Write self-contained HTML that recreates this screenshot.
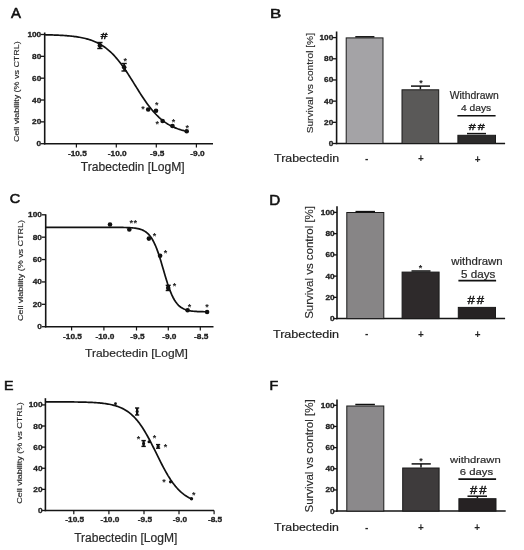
<!DOCTYPE html>
<html><head><meta charset="utf-8"><style>
html,body{margin:0;padding:0;background:#fff;}
svg{display:block;}
text{font-family:"Liberation Sans",Arial,sans-serif;}
</style></head><body>
<svg width="524" height="550" viewBox="0 0 524 550">
<rect width="524" height="550" fill="#fff"/>
<text x="11.06" y="17.80" font-size="14.25" fill="#111" stroke="#111" stroke-width="0.55" textLength="9.97" lengthAdjust="spacingAndGlyphs">A</text>
<text transform="translate(19.15,142.05) rotate(-90)" x="0" y="0" font-size="7.86" fill="#2a2a2a" stroke="#2a2a2a" stroke-width="0.15" textLength="100.78" lengthAdjust="spacingAndGlyphs">Cell viability (% vs CTRL)</text>
<line x1="44.70" y1="32.50" x2="44.70" y2="144.40" stroke="#151515" stroke-width="1.6"/>
<line x1="40.80" y1="143.70" x2="44.70" y2="143.70" stroke="#151515" stroke-width="1.3"/>
<text x="36.64" y="146.21" font-size="7.2" font-weight="bold" fill="#222" stroke="#222" stroke-width="0.3" textLength="4.61" lengthAdjust="spacingAndGlyphs">0</text>
<line x1="40.80" y1="121.86" x2="44.70" y2="121.86" stroke="#151515" stroke-width="1.3"/>
<text x="32.04" y="124.37" font-size="7.2" font-weight="bold" fill="#222" stroke="#222" stroke-width="0.3" textLength="9.21" lengthAdjust="spacingAndGlyphs">20</text>
<line x1="40.80" y1="100.02" x2="44.70" y2="100.02" stroke="#151515" stroke-width="1.3"/>
<text x="32.04" y="102.53" font-size="7.2" font-weight="bold" fill="#222" stroke="#222" stroke-width="0.3" textLength="9.21" lengthAdjust="spacingAndGlyphs">40</text>
<line x1="40.80" y1="78.18" x2="44.70" y2="78.18" stroke="#151515" stroke-width="1.3"/>
<text x="32.04" y="80.69" font-size="7.2" font-weight="bold" fill="#222" stroke="#222" stroke-width="0.3" textLength="9.21" lengthAdjust="spacingAndGlyphs">60</text>
<line x1="40.80" y1="56.34" x2="44.70" y2="56.34" stroke="#151515" stroke-width="1.3"/>
<text x="32.04" y="58.85" font-size="7.2" font-weight="bold" fill="#222" stroke="#222" stroke-width="0.3" textLength="9.21" lengthAdjust="spacingAndGlyphs">80</text>
<line x1="40.80" y1="34.50" x2="44.70" y2="34.50" stroke="#151515" stroke-width="1.3"/>
<text x="27.42" y="37.01" font-size="7.2" font-weight="bold" fill="#222" stroke="#222" stroke-width="0.3" textLength="13.82" lengthAdjust="spacingAndGlyphs">100</text>
<line x1="43.90" y1="143.70" x2="213.00" y2="143.70" stroke="#151515" stroke-width="1.5"/>
<line x1="76.40" y1="143.70" x2="76.40" y2="147.50" stroke="#151515" stroke-width="1.2"/>
<text x="67.92" y="155.62" font-size="7.2" font-weight="bold" fill="#222" stroke="#222" stroke-width="0.3" textLength="18.87" lengthAdjust="spacingAndGlyphs">-10.5</text>
<line x1="116.30" y1="143.70" x2="116.30" y2="147.50" stroke="#151515" stroke-width="1.2"/>
<text x="107.87" y="155.62" font-size="7.2" font-weight="bold" fill="#222" stroke="#222" stroke-width="0.3" textLength="18.87" lengthAdjust="spacingAndGlyphs">-10.0</text>
<line x1="156.30" y1="143.70" x2="156.30" y2="147.50" stroke="#151515" stroke-width="1.2"/>
<text x="150.12" y="155.62" font-size="7.2" font-weight="bold" fill="#222" stroke="#222" stroke-width="0.3" textLength="14.27" lengthAdjust="spacingAndGlyphs">-9.5</text>
<line x1="196.40" y1="143.70" x2="196.40" y2="147.50" stroke="#151515" stroke-width="1.2"/>
<text x="190.27" y="155.62" font-size="7.2" font-weight="bold" fill="#222" stroke="#222" stroke-width="0.3" textLength="14.27" lengthAdjust="spacingAndGlyphs">-9.0</text>
<text x="80.83" y="171.00" font-size="12.14" fill="#2a2a2a" stroke="#2a2a2a" stroke-width="0.2" textLength="103.84" lengthAdjust="spacingAndGlyphs">Trabectedin [LogM]</text>
<path d="M45.00,34.77 L46.19,34.80 L47.38,34.82 L48.57,34.85 L49.76,34.88 L50.95,34.92 L52.14,34.95 L53.33,34.99 L54.52,35.04 L55.71,35.08 L56.90,35.13 L58.09,35.18 L59.28,35.24 L60.47,35.30 L61.66,35.37 L62.85,35.44 L64.04,35.52 L65.23,35.60 L66.42,35.69 L67.61,35.78 L68.80,35.89 L69.99,36.00 L71.18,36.12 L72.37,36.25 L73.56,36.39 L74.75,36.54 L75.94,36.70 L77.13,36.88 L78.32,37.06 L79.51,37.26 L80.70,37.48 L81.89,37.71 L83.08,37.96 L84.27,38.23 L85.46,38.52 L86.65,38.82 L87.84,39.16 L89.03,39.51 L90.22,39.89 L91.41,40.30 L92.60,40.73 L93.79,41.20 L94.98,41.69 L96.17,42.22 L97.36,42.79 L98.55,43.39 L99.74,44.03 L100.93,44.72 L102.12,45.44 L103.31,46.21 L104.50,47.03 L105.69,47.90 L106.88,48.81 L108.07,49.78 L109.26,50.80 L110.45,51.87 L111.64,53.00 L112.83,54.18 L114.02,55.42 L115.21,56.72 L116.39,58.07 L117.58,59.48 L118.77,60.94 L119.96,62.46 L121.15,64.03 L122.34,65.65 L123.53,67.32 L124.72,69.03 L125.91,70.78 L127.10,72.57 L128.29,74.39 L129.48,76.25 L130.67,78.12 L131.86,80.02 L133.05,81.92 L134.24,83.84 L135.43,85.76 L136.62,87.67 L137.81,89.57 L139.00,91.47 L140.19,93.34 L141.38,95.18 L142.57,97.00 L143.76,98.78 L144.95,100.53 L146.14,102.23 L147.33,103.89 L148.52,105.50 L149.71,107.06 L150.90,108.56 L152.09,110.01 L153.28,111.41 L154.47,112.75 L155.66,114.04 L156.85,115.27 L158.04,116.44 L159.23,117.56 L160.42,118.62 L161.61,119.63 L162.80,120.58 L163.99,121.49 L165.18,122.34 L166.37,123.15 L167.56,123.91 L168.75,124.63 L169.94,125.30 L171.13,125.94 L172.32,126.53 L173.51,127.09 L174.70,127.61 L175.89,128.10 L177.08,128.56 L178.27,128.99 L179.46,129.39 L180.65,129.77 L181.84,130.12 L183.03,130.44 L184.22,130.75 L185.41,131.03 L186.60,131.29" fill="none" stroke="#111" stroke-width="1.7"/>
<line x1="99.90" y1="42.50" x2="99.90" y2="48.50" stroke="#111" stroke-width="1.8"/>
<line x1="97.25" y1="42.50" x2="102.55" y2="42.50" stroke="#111" stroke-width="1.4"/>
<line x1="97.25" y1="48.50" x2="102.55" y2="48.50" stroke="#111" stroke-width="1.4"/>
<circle cx="99.90" cy="45.40" r="2.3" fill="#111"/>
<line x1="124.10" y1="63.50" x2="124.10" y2="71.00" stroke="#111" stroke-width="1.8"/>
<line x1="121.45" y1="63.50" x2="126.75" y2="63.50" stroke="#111" stroke-width="1.4"/>
<line x1="121.45" y1="71.00" x2="126.75" y2="71.00" stroke="#111" stroke-width="1.4"/>
<circle cx="124.20" cy="67.20" r="2.3" fill="#111"/>
<circle cx="148.20" cy="109.50" r="2.3" fill="#111"/>
<circle cx="156.00" cy="110.70" r="2.3" fill="#111"/>
<circle cx="162.60" cy="121.00" r="2.3" fill="#111"/>
<circle cx="172.50" cy="126.00" r="2.3" fill="#111"/>
<circle cx="186.70" cy="131.20" r="2.3" fill="#111"/>
<text x="100.74" y="39.40" font-size="9.20" fill="#1a1a1a" stroke="#1a1a1a" stroke-width="0.55" textLength="6.70" lengthAdjust="spacingAndGlyphs">#</text>
<text x="123.45" y="64.21" font-size="9.00" font-weight="bold" fill="#222" textLength="3.50" lengthAdjust="spacingAndGlyphs">*</text>
<text x="141.34" y="111.61" font-size="9.00" font-weight="bold" fill="#222" textLength="3.50" lengthAdjust="spacingAndGlyphs">*</text>
<text x="155.05" y="108.41" font-size="9.00" font-weight="bold" fill="#222" textLength="3.50" lengthAdjust="spacingAndGlyphs">*</text>
<text x="155.55" y="127.31" font-size="9.00" font-weight="bold" fill="#222" textLength="3.50" lengthAdjust="spacingAndGlyphs">*</text>
<text x="171.84" y="124.51" font-size="9.00" font-weight="bold" fill="#222" textLength="3.50" lengthAdjust="spacingAndGlyphs">*</text>
<text x="185.44" y="130.51" font-size="9.00" font-weight="bold" fill="#222" textLength="3.50" lengthAdjust="spacingAndGlyphs">*</text>
<!-- B -->
<text x="270.11" y="17.60" font-size="13.09" fill="#111" stroke="#111" stroke-width="0.55" textLength="11.27" lengthAdjust="spacingAndGlyphs">B</text>
<text transform="translate(313.25,133.36) rotate(-90)" x="0" y="0" font-size="9.93" fill="#2a2a2a" stroke="#2a2a2a" stroke-width="0.15" textLength="100.37" lengthAdjust="spacingAndGlyphs">Survival vs control [%]</text>
<line x1="336.60" y1="31.50" x2="336.60" y2="144.20" stroke="#151515" stroke-width="1.6"/>
<line x1="332.70" y1="143.50" x2="336.60" y2="143.50" stroke="#151515" stroke-width="1.3"/>
<text x="328.74" y="146.01" font-size="7.2" font-weight="bold" fill="#222" stroke="#222" stroke-width="0.3" textLength="4.61" lengthAdjust="spacingAndGlyphs">0</text>
<line x1="332.70" y1="122.32" x2="336.60" y2="122.32" stroke="#151515" stroke-width="1.3"/>
<text x="324.14" y="124.83" font-size="7.2" font-weight="bold" fill="#222" stroke="#222" stroke-width="0.3" textLength="9.21" lengthAdjust="spacingAndGlyphs">20</text>
<line x1="332.70" y1="101.14" x2="336.60" y2="101.14" stroke="#151515" stroke-width="1.3"/>
<text x="324.14" y="103.65" font-size="7.2" font-weight="bold" fill="#222" stroke="#222" stroke-width="0.3" textLength="9.21" lengthAdjust="spacingAndGlyphs">40</text>
<line x1="332.70" y1="79.96" x2="336.60" y2="79.96" stroke="#151515" stroke-width="1.3"/>
<text x="324.14" y="82.47" font-size="7.2" font-weight="bold" fill="#222" stroke="#222" stroke-width="0.3" textLength="9.21" lengthAdjust="spacingAndGlyphs">60</text>
<line x1="332.70" y1="58.78" x2="336.60" y2="58.78" stroke="#151515" stroke-width="1.3"/>
<text x="324.14" y="61.29" font-size="7.2" font-weight="bold" fill="#222" stroke="#222" stroke-width="0.3" textLength="9.21" lengthAdjust="spacingAndGlyphs">80</text>
<line x1="332.70" y1="37.60" x2="336.60" y2="37.60" stroke="#151515" stroke-width="1.3"/>
<text x="319.52" y="40.11" font-size="7.2" font-weight="bold" fill="#222" stroke="#222" stroke-width="0.3" textLength="13.82" lengthAdjust="spacingAndGlyphs">100</text>
<line x1="335.80" y1="143.50" x2="505.10" y2="143.50" stroke="#151515" stroke-width="1.5"/>
<rect x="346.20" y="37.90" width="36.80" height="105.60" fill="#a4a3a6" stroke="#1a1a1a" stroke-width="1"/>
<line x1="355.30" y1="36.80" x2="374.40" y2="36.80" stroke="#111" stroke-width="1.5"/>
<rect x="402.00" y="89.80" width="36.70" height="53.70" fill="#5a5958" stroke="#1a1a1a" stroke-width="1"/>
<line x1="420.40" y1="86.10" x2="420.40" y2="89.30" stroke="#111" stroke-width="1.5"/>
<line x1="411.00" y1="86.10" x2="430.00" y2="86.10" stroke="#111" stroke-width="1.5"/>
<text x="419.25" y="86.41" font-size="9.00" font-weight="bold" fill="#222" textLength="3.50" lengthAdjust="spacingAndGlyphs">*</text>
<rect x="457.90" y="135.30" width="37.60" height="8.20" fill="#2c2b2b" stroke="#1a1a1a" stroke-width="1"/>
<line x1="467.00" y1="133.60" x2="486.00" y2="133.60" stroke="#111" stroke-width="1.5"/>
<text transform="translate(468.74,129.70) scale(1.361,1)" x="0" y="0" font-size="9.20" fill="#1a1a1a" stroke="#1a1a1a" stroke-width="0.37" letter-spacing="1.47">##</text>
<text x="449.75" y="99.10" font-size="10.07" fill="#2a2a2a" stroke="#2a2a2a" stroke-width="0.2" textLength="48.91" lengthAdjust="spacingAndGlyphs">Withdrawn</text>
<text x="460.97" y="110.50" font-size="9.10" fill="#2a2a2a" stroke="#2a2a2a" stroke-width="0.2" textLength="30.18" lengthAdjust="spacingAndGlyphs">4 days</text>
<line x1="457.40" y1="115.70" x2="495.60" y2="115.70" stroke="#111" stroke-width="1.6"/>
<text x="274.12" y="162.40" font-size="11.59" fill="#222" stroke="#222" stroke-width="0.2" textLength="64.97" lengthAdjust="spacingAndGlyphs">Trabectedin</text>
<text x="365.04" y="161.70" font-size="10.00" font-weight="bold" fill="#222" textLength="3.33" lengthAdjust="spacingAndGlyphs">-</text>
<text x="417.88" y="162.32" font-size="10.00" font-weight="bold" fill="#222" textLength="5.84" lengthAdjust="spacingAndGlyphs">+</text>
<text x="474.68" y="162.52" font-size="10.00" font-weight="bold" fill="#222" textLength="5.84" lengthAdjust="spacingAndGlyphs">+</text>
<!-- C -->
<text x="9.78" y="203.30" font-size="12.90" fill="#111" stroke="#111" stroke-width="0.55" textLength="10.46" lengthAdjust="spacingAndGlyphs">C</text>
<text transform="translate(23.45,321.05) rotate(-90)" x="0" y="0" font-size="7.45" fill="#2a2a2a" stroke="#2a2a2a" stroke-width="0.15" textLength="100.98" lengthAdjust="spacingAndGlyphs">Cell viability (% vs CTRL)</text>
<line x1="45.70" y1="214.30" x2="45.70" y2="327.40" stroke="#151515" stroke-width="1.6"/>
<line x1="41.80" y1="326.70" x2="45.70" y2="326.70" stroke="#151515" stroke-width="1.3"/>
<text x="37.34" y="329.21" font-size="7.2" font-weight="bold" fill="#222" stroke="#222" stroke-width="0.3" textLength="4.61" lengthAdjust="spacingAndGlyphs">0</text>
<line x1="41.80" y1="304.32" x2="45.70" y2="304.32" stroke="#151515" stroke-width="1.3"/>
<text x="32.74" y="306.83" font-size="7.2" font-weight="bold" fill="#222" stroke="#222" stroke-width="0.3" textLength="9.21" lengthAdjust="spacingAndGlyphs">20</text>
<line x1="41.80" y1="281.94" x2="45.70" y2="281.94" stroke="#151515" stroke-width="1.3"/>
<text x="32.74" y="284.45" font-size="7.2" font-weight="bold" fill="#222" stroke="#222" stroke-width="0.3" textLength="9.21" lengthAdjust="spacingAndGlyphs">40</text>
<line x1="41.80" y1="259.56" x2="45.70" y2="259.56" stroke="#151515" stroke-width="1.3"/>
<text x="32.74" y="262.07" font-size="7.2" font-weight="bold" fill="#222" stroke="#222" stroke-width="0.3" textLength="9.21" lengthAdjust="spacingAndGlyphs">60</text>
<line x1="41.80" y1="237.18" x2="45.70" y2="237.18" stroke="#151515" stroke-width="1.3"/>
<text x="32.74" y="239.69" font-size="7.2" font-weight="bold" fill="#222" stroke="#222" stroke-width="0.3" textLength="9.21" lengthAdjust="spacingAndGlyphs">80</text>
<line x1="41.80" y1="214.80" x2="45.70" y2="214.80" stroke="#151515" stroke-width="1.3"/>
<text x="28.12" y="217.31" font-size="7.2" font-weight="bold" fill="#222" stroke="#222" stroke-width="0.3" textLength="13.82" lengthAdjust="spacingAndGlyphs">100</text>
<line x1="44.90" y1="326.70" x2="213.50" y2="326.70" stroke="#151515" stroke-width="1.5"/>
<line x1="71.60" y1="326.70" x2="71.60" y2="330.50" stroke="#151515" stroke-width="1.2"/>
<text x="63.12" y="338.92" font-size="7.2" font-weight="bold" fill="#222" stroke="#222" stroke-width="0.3" textLength="18.87" lengthAdjust="spacingAndGlyphs">-10.5</text>
<line x1="103.90" y1="326.70" x2="103.90" y2="330.50" stroke="#151515" stroke-width="1.2"/>
<text x="95.47" y="338.92" font-size="7.2" font-weight="bold" fill="#222" stroke="#222" stroke-width="0.3" textLength="18.87" lengthAdjust="spacingAndGlyphs">-10.0</text>
<line x1="136.50" y1="326.70" x2="136.50" y2="330.50" stroke="#151515" stroke-width="1.2"/>
<text x="130.32" y="338.92" font-size="7.2" font-weight="bold" fill="#222" stroke="#222" stroke-width="0.3" textLength="14.27" lengthAdjust="spacingAndGlyphs">-9.5</text>
<line x1="168.30" y1="326.70" x2="168.30" y2="330.50" stroke="#151515" stroke-width="1.2"/>
<text x="162.17" y="338.92" font-size="7.2" font-weight="bold" fill="#222" stroke="#222" stroke-width="0.3" textLength="14.27" lengthAdjust="spacingAndGlyphs">-9.0</text>
<line x1="200.30" y1="326.70" x2="200.30" y2="330.50" stroke="#151515" stroke-width="1.2"/>
<text x="194.12" y="338.92" font-size="7.2" font-weight="bold" fill="#222" stroke="#222" stroke-width="0.3" textLength="14.27" lengthAdjust="spacingAndGlyphs">-8.5</text>
<text x="85.03" y="357.30" font-size="11.59" fill="#2a2a2a" stroke="#2a2a2a" stroke-width="0.2" textLength="102.93" lengthAdjust="spacingAndGlyphs">Trabectedin [LogM]</text>
<path d="M45.50,227.34 L46.86,227.34 L48.21,227.34 L49.57,227.34 L50.93,227.34 L52.29,227.34 L53.64,227.34 L55.00,227.34 L56.36,227.34 L57.71,227.34 L59.07,227.34 L60.43,227.34 L61.79,227.34 L63.14,227.34 L64.50,227.34 L65.86,227.34 L67.21,227.34 L68.57,227.34 L69.93,227.34 L71.29,227.34 L72.64,227.34 L74.00,227.34 L75.36,227.34 L76.71,227.34 L78.07,227.34 L79.43,227.34 L80.79,227.34 L82.14,227.34 L83.50,227.34 L84.86,227.34 L86.21,227.34 L87.57,227.34 L88.93,227.34 L90.29,227.34 L91.64,227.34 L93.00,227.34 L94.36,227.34 L95.71,227.34 L97.07,227.34 L98.43,227.34 L99.79,227.34 L101.14,227.34 L102.50,227.34 L103.86,227.35 L105.21,227.35 L106.57,227.35 L107.93,227.35 L109.29,227.35 L110.64,227.36 L112.00,227.36 L113.36,227.37 L114.71,227.37 L116.07,227.38 L117.43,227.39 L118.79,227.40 L120.14,227.41 L121.50,227.43 L122.86,227.45 L124.21,227.48 L125.57,227.52 L126.93,227.56 L128.29,227.62 L129.64,227.68 L131.00,227.77 L132.36,227.87 L133.71,228.01 L135.07,228.17 L136.43,228.37 L137.79,228.62 L139.14,228.94 L140.50,229.32 L141.86,229.80 L143.21,230.39 L144.57,231.11 L145.93,231.99 L147.29,233.07 L148.64,234.37 L150.00,235.93 L151.36,237.80 L152.71,240.01 L154.07,242.58 L155.43,245.54 L156.79,248.90 L158.14,252.65 L159.50,256.74 L160.86,261.11 L162.21,265.69 L163.57,270.36 L164.93,275.01 L166.29,279.53 L167.64,283.82 L169.00,287.80 L170.36,291.43 L171.71,294.66 L173.07,297.49 L174.43,299.94 L175.79,302.04 L177.14,303.80 L178.50,305.28 L179.86,306.50 L181.21,307.51 L182.57,308.34 L183.93,309.01 L185.29,309.56 L186.64,310.01 L188.00,310.37 L189.36,310.66 L190.71,310.89 L192.07,311.08 L193.43,311.24 L194.79,311.36 L196.14,311.46 L197.50,311.54 L198.86,311.60 L200.21,311.65 L201.57,311.69 L202.93,311.72 L204.29,311.75 L205.64,311.77 L207.00,311.79" fill="none" stroke="#111" stroke-width="1.7"/>
<circle cx="110.00" cy="224.50" r="2.3" fill="#111"/>
<circle cx="129.30" cy="229.50" r="2.3" fill="#111"/>
<circle cx="148.90" cy="238.60" r="2.3" fill="#111"/>
<circle cx="160.10" cy="255.80" r="2.3" fill="#111"/>
<circle cx="187.60" cy="310.20" r="2.3" fill="#111"/>
<circle cx="207.10" cy="312.00" r="2.3" fill="#111"/>
<line x1="168.20" y1="285.30" x2="168.20" y2="290.50" stroke="#111" stroke-width="2.2"/>
<line x1="165.70" y1="285.30" x2="170.70" y2="285.30" stroke="#111" stroke-width="1.4"/>
<line x1="165.70" y1="290.50" x2="170.70" y2="290.50" stroke="#111" stroke-width="1.4"/>
<circle cx="168.20" cy="287.90" r="2.3" fill="#111"/>
<text transform="translate(129.38,225.52) scale(1.116,1)" x="0" y="0" font-size="8.32" font-weight="bold" fill="#222" letter-spacing="0.54">**</text>
<text x="152.84" y="238.61" font-size="9.00" font-weight="bold" fill="#222" textLength="3.50" lengthAdjust="spacingAndGlyphs">*</text>
<text x="163.84" y="255.81" font-size="9.00" font-weight="bold" fill="#222" textLength="3.50" lengthAdjust="spacingAndGlyphs">*</text>
<text x="172.75" y="289.01" font-size="9.00" font-weight="bold" fill="#222" textLength="3.50" lengthAdjust="spacingAndGlyphs">*</text>
<text x="187.65" y="309.61" font-size="9.00" font-weight="bold" fill="#222" textLength="3.50" lengthAdjust="spacingAndGlyphs">*</text>
<text x="205.34" y="310.21" font-size="9.00" font-weight="bold" fill="#222" textLength="3.50" lengthAdjust="spacingAndGlyphs">*</text>
<!-- D -->
<text x="269.35" y="204.80" font-size="13.82" fill="#111" stroke="#111" stroke-width="0.55" textLength="10.97" lengthAdjust="spacingAndGlyphs">D</text>
<text transform="translate(312.85,318.82) rotate(-90)" x="0" y="0" font-size="11.31" fill="#2a2a2a" stroke="#2a2a2a" stroke-width="0.15" textLength="112.81" lengthAdjust="spacingAndGlyphs">Survival vs control [%]</text>
<line x1="337.00" y1="206.30" x2="337.00" y2="319.30" stroke="#151515" stroke-width="1.6"/>
<line x1="333.10" y1="318.60" x2="337.00" y2="318.60" stroke="#151515" stroke-width="1.3"/>
<text x="330.04" y="321.11" font-size="7.2" font-weight="bold" fill="#222" stroke="#222" stroke-width="0.3" textLength="4.61" lengthAdjust="spacingAndGlyphs">0</text>
<line x1="333.10" y1="297.36" x2="337.00" y2="297.36" stroke="#151515" stroke-width="1.3"/>
<text x="325.44" y="299.87" font-size="7.2" font-weight="bold" fill="#222" stroke="#222" stroke-width="0.3" textLength="9.21" lengthAdjust="spacingAndGlyphs">20</text>
<line x1="333.10" y1="276.12" x2="337.00" y2="276.12" stroke="#151515" stroke-width="1.3"/>
<text x="325.44" y="278.63" font-size="7.2" font-weight="bold" fill="#222" stroke="#222" stroke-width="0.3" textLength="9.21" lengthAdjust="spacingAndGlyphs">40</text>
<line x1="333.10" y1="254.88" x2="337.00" y2="254.88" stroke="#151515" stroke-width="1.3"/>
<text x="325.44" y="257.39" font-size="7.2" font-weight="bold" fill="#222" stroke="#222" stroke-width="0.3" textLength="9.21" lengthAdjust="spacingAndGlyphs">60</text>
<line x1="333.10" y1="233.64" x2="337.00" y2="233.64" stroke="#151515" stroke-width="1.3"/>
<text x="325.44" y="236.15" font-size="7.2" font-weight="bold" fill="#222" stroke="#222" stroke-width="0.3" textLength="9.21" lengthAdjust="spacingAndGlyphs">80</text>
<line x1="333.10" y1="212.40" x2="337.00" y2="212.40" stroke="#151515" stroke-width="1.3"/>
<text x="320.82" y="214.91" font-size="7.2" font-weight="bold" fill="#222" stroke="#222" stroke-width="0.3" textLength="13.82" lengthAdjust="spacingAndGlyphs">100</text>
<line x1="336.20" y1="318.60" x2="505.10" y2="318.60" stroke="#151515" stroke-width="1.5"/>
<rect x="346.80" y="212.50" width="37.00" height="106.10" fill="#878586" stroke="#1a1a1a" stroke-width="1"/>
<line x1="355.50" y1="211.60" x2="375.00" y2="211.60" stroke="#111" stroke-width="1.5"/>
<rect x="402.10" y="272.10" width="37.00" height="46.50" fill="#2e2a2b" stroke="#1a1a1a" stroke-width="1"/>
<line x1="411.50" y1="271.00" x2="430.50" y2="271.00" stroke="#111" stroke-width="1.5"/>
<text x="418.64" y="270.91" font-size="9.00" font-weight="bold" fill="#222" textLength="3.50" lengthAdjust="spacingAndGlyphs">*</text>
<rect x="458.30" y="307.40" width="37.20" height="11.20" fill="#262223" stroke="#1a1a1a" stroke-width="1"/>
<text transform="translate(467.43,304.10) scale(1.287,1)" x="0" y="0" font-size="10.22" fill="#1a1a1a" stroke="#1a1a1a" stroke-width="0.39" letter-spacing="1.55">##</text>
<text x="451.33" y="265.30" font-size="10.62" fill="#2a2a2a" stroke="#2a2a2a" stroke-width="0.2" textLength="51.31" lengthAdjust="spacingAndGlyphs">withdrawn</text>
<text x="461.13" y="277.70" font-size="10.62" fill="#2a2a2a" stroke="#2a2a2a" stroke-width="0.2" textLength="34.26" lengthAdjust="spacingAndGlyphs">5 days</text>
<line x1="458.40" y1="280.60" x2="496.10" y2="280.60" stroke="#111" stroke-width="1.6"/>
<text x="272.92" y="337.90" font-size="11.72" fill="#222" stroke="#222" stroke-width="0.2" textLength="66.09" lengthAdjust="spacingAndGlyphs">Trabectedin</text>
<text x="365.04" y="337.20" font-size="10.00" font-weight="bold" fill="#222" textLength="3.33" lengthAdjust="spacingAndGlyphs">-</text>
<text x="417.88" y="337.72" font-size="10.00" font-weight="bold" fill="#222" textLength="5.84" lengthAdjust="spacingAndGlyphs">+</text>
<text x="474.68" y="337.72" font-size="10.00" font-weight="bold" fill="#222" textLength="5.84" lengthAdjust="spacingAndGlyphs">+</text>
<!-- E -->
<text x="4.13" y="390.40" font-size="12.51" fill="#111" stroke="#111" stroke-width="0.55" textLength="9.47" lengthAdjust="spacingAndGlyphs">E</text>
<text transform="translate(22.10,503.75) rotate(-90)" x="0" y="0" font-size="7.72" fill="#2a2a2a" stroke="#2a2a2a" stroke-width="0.15" textLength="101.49" lengthAdjust="spacingAndGlyphs">Cell viability (% vs CTRL)</text>
<line x1="45.40" y1="398.20" x2="45.40" y2="511.20" stroke="#151515" stroke-width="1.6"/>
<line x1="41.50" y1="510.50" x2="45.40" y2="510.50" stroke="#151515" stroke-width="1.3"/>
<text x="37.94" y="513.01" font-size="7.2" font-weight="bold" fill="#222" stroke="#222" stroke-width="0.3" textLength="4.61" lengthAdjust="spacingAndGlyphs">0</text>
<line x1="41.50" y1="489.38" x2="45.40" y2="489.38" stroke="#151515" stroke-width="1.3"/>
<text x="33.34" y="491.89" font-size="7.2" font-weight="bold" fill="#222" stroke="#222" stroke-width="0.3" textLength="9.21" lengthAdjust="spacingAndGlyphs">20</text>
<line x1="41.50" y1="468.26" x2="45.40" y2="468.26" stroke="#151515" stroke-width="1.3"/>
<text x="33.34" y="470.77" font-size="7.2" font-weight="bold" fill="#222" stroke="#222" stroke-width="0.3" textLength="9.21" lengthAdjust="spacingAndGlyphs">40</text>
<line x1="41.50" y1="447.14" x2="45.40" y2="447.14" stroke="#151515" stroke-width="1.3"/>
<text x="33.34" y="449.65" font-size="7.2" font-weight="bold" fill="#222" stroke="#222" stroke-width="0.3" textLength="9.21" lengthAdjust="spacingAndGlyphs">60</text>
<line x1="41.50" y1="426.02" x2="45.40" y2="426.02" stroke="#151515" stroke-width="1.3"/>
<text x="33.34" y="428.53" font-size="7.2" font-weight="bold" fill="#222" stroke="#222" stroke-width="0.3" textLength="9.21" lengthAdjust="spacingAndGlyphs">80</text>
<line x1="41.50" y1="404.90" x2="45.40" y2="404.90" stroke="#151515" stroke-width="1.3"/>
<text x="28.72" y="407.41" font-size="7.2" font-weight="bold" fill="#222" stroke="#222" stroke-width="0.3" textLength="13.82" lengthAdjust="spacingAndGlyphs">100</text>
<line x1="44.60" y1="510.50" x2="214.10" y2="510.50" stroke="#151515" stroke-width="1.5"/>
<line x1="73.80" y1="510.50" x2="73.80" y2="514.30" stroke="#151515" stroke-width="1.2"/>
<text x="65.32" y="522.22" font-size="7.2" font-weight="bold" fill="#222" stroke="#222" stroke-width="0.3" textLength="18.87" lengthAdjust="spacingAndGlyphs">-10.5</text>
<line x1="108.90" y1="510.50" x2="108.90" y2="514.30" stroke="#151515" stroke-width="1.2"/>
<text x="100.47" y="522.22" font-size="7.2" font-weight="bold" fill="#222" stroke="#222" stroke-width="0.3" textLength="18.87" lengthAdjust="spacingAndGlyphs">-10.0</text>
<line x1="144.00" y1="510.50" x2="144.00" y2="514.30" stroke="#151515" stroke-width="1.2"/>
<text x="137.82" y="522.22" font-size="7.2" font-weight="bold" fill="#222" stroke="#222" stroke-width="0.3" textLength="14.27" lengthAdjust="spacingAndGlyphs">-9.5</text>
<line x1="179.00" y1="510.50" x2="179.00" y2="514.30" stroke="#151515" stroke-width="1.2"/>
<text x="172.87" y="522.22" font-size="7.2" font-weight="bold" fill="#222" stroke="#222" stroke-width="0.3" textLength="14.27" lengthAdjust="spacingAndGlyphs">-9.0</text>
<line x1="214.10" y1="510.50" x2="214.10" y2="514.30" stroke="#151515" stroke-width="1.2"/>
<text x="207.92" y="522.22" font-size="7.2" font-weight="bold" fill="#222" stroke="#222" stroke-width="0.3" textLength="14.27" lengthAdjust="spacingAndGlyphs">-8.5</text>
<text x="74.13" y="541.80" font-size="12.28" fill="#2a2a2a" stroke="#2a2a2a" stroke-width="0.2" textLength="103.13" lengthAdjust="spacingAndGlyphs">Trabectedin [LogM]</text>
<path d="M45.40,401.83 L46.63,401.83 L47.86,401.84 L49.08,401.84 L50.31,401.84 L51.54,401.84 L52.77,401.85 L53.99,401.85 L55.22,401.85 L56.45,401.86 L57.68,401.86 L58.91,401.86 L60.13,401.87 L61.36,401.87 L62.59,401.88 L63.82,401.89 L65.04,401.89 L66.27,401.90 L67.50,401.91 L68.73,401.92 L69.95,401.93 L71.18,401.94 L72.41,401.95 L73.64,401.97 L74.87,401.98 L76.09,402.00 L77.32,402.02 L78.55,402.04 L79.78,402.06 L81.00,402.09 L82.23,402.11 L83.46,402.14 L84.69,402.18 L85.92,402.21 L87.14,402.25 L88.37,402.30 L89.60,402.35 L90.83,402.40 L92.05,402.46 L93.28,402.52 L94.51,402.60 L95.74,402.67 L96.96,402.76 L98.19,402.86 L99.42,402.96 L100.65,403.07 L101.88,403.20 L103.10,403.34 L104.33,403.49 L105.56,403.66 L106.79,403.84 L108.01,404.04 L109.24,404.27 L110.47,404.51 L111.70,404.77 L112.93,405.07 L114.15,405.38 L115.38,405.73 L116.61,406.12 L117.84,406.53 L119.06,406.99 L120.29,407.49 L121.52,408.03 L122.75,408.62 L123.97,409.26 L125.20,409.96 L126.43,410.71 L127.66,411.53 L128.89,412.42 L130.11,413.38 L131.34,414.41 L132.57,415.52 L133.80,416.71 L135.02,417.99 L136.25,419.35 L137.48,420.81 L138.71,422.36 L139.94,424.00 L141.16,425.73 L142.39,427.55 L143.62,429.47 L144.85,431.47 L146.07,433.56 L147.30,435.73 L148.53,437.97 L149.76,440.27 L150.98,442.64 L152.21,445.05 L153.44,447.50 L154.67,449.97 L155.90,452.47 L157.12,454.96 L158.35,457.45 L159.58,459.92 L160.81,462.36 L162.03,464.76 L163.26,467.11 L164.49,469.40 L165.72,471.62 L166.95,473.76 L168.17,475.83 L169.40,477.81 L170.63,479.70 L171.86,481.50 L173.08,483.21 L174.31,484.82 L175.54,486.34 L176.77,487.77 L177.99,489.11 L179.22,490.37 L180.45,491.54 L181.68,492.62 L182.91,493.64 L184.13,494.57 L185.36,495.44 L186.59,496.24 L187.82,496.98 L189.04,497.66 L190.27,498.29 L191.50,498.87" fill="none" stroke="#111" stroke-width="1.7"/>
<circle cx="115.50" cy="403.70" r="1.4" fill="#111"/>
<circle cx="149.00" cy="441.80" r="1.5" fill="#111"/>
<circle cx="170.50" cy="481.80" r="1.6" fill="#111"/>
<circle cx="191.50" cy="498.80" r="1.7" fill="#111"/>
<line x1="137.10" y1="408.00" x2="137.10" y2="415.00" stroke="#111" stroke-width="2.2"/>
<line x1="135.00" y1="408.00" x2="139.20" y2="408.00" stroke="#111" stroke-width="1.4"/>
<line x1="135.00" y1="415.00" x2="139.20" y2="415.00" stroke="#111" stroke-width="1.4"/>
<circle cx="137.10" cy="411.50" r="1.5" fill="#111"/>
<line x1="143.60" y1="440.60" x2="143.60" y2="446.40" stroke="#111" stroke-width="2.2"/>
<line x1="141.40" y1="440.60" x2="145.80" y2="440.60" stroke="#111" stroke-width="1.4"/>
<line x1="141.40" y1="446.40" x2="145.80" y2="446.40" stroke="#111" stroke-width="1.4"/>
<circle cx="143.60" cy="443.50" r="1.5" fill="#111"/>
<line x1="158.10" y1="444.60" x2="158.10" y2="448.20" stroke="#111" stroke-width="2.2"/>
<line x1="156.00" y1="444.60" x2="160.20" y2="444.60" stroke="#111" stroke-width="1.4"/>
<line x1="156.00" y1="448.20" x2="160.20" y2="448.20" stroke="#111" stroke-width="1.4"/>
<circle cx="158.10" cy="446.40" r="1.5" fill="#111"/>
<text x="136.75" y="441.71" font-size="9.00" font-weight="bold" fill="#222" textLength="3.50" lengthAdjust="spacingAndGlyphs">*</text>
<text x="152.75" y="441.11" font-size="9.00" font-weight="bold" fill="#222" textLength="3.50" lengthAdjust="spacingAndGlyphs">*</text>
<text x="163.65" y="450.11" font-size="9.00" font-weight="bold" fill="#222" textLength="3.50" lengthAdjust="spacingAndGlyphs">*</text>
<text x="162.25" y="485.01" font-size="9.00" font-weight="bold" fill="#222" textLength="3.50" lengthAdjust="spacingAndGlyphs">*</text>
<text x="191.94" y="497.51" font-size="9.00" font-weight="bold" fill="#222" textLength="3.50" lengthAdjust="spacingAndGlyphs">*</text>
<!-- F -->
<text x="269.42" y="389.70" font-size="12.80" fill="#111" stroke="#111" stroke-width="0.55" textLength="8.77" lengthAdjust="spacingAndGlyphs">F</text>
<text transform="translate(312.80,512.52) rotate(-90)" x="0" y="0" font-size="11.03" fill="#2a2a2a" stroke="#2a2a2a" stroke-width="0.15" textLength="113.11" lengthAdjust="spacingAndGlyphs">Survival vs control [%]</text>
<line x1="337.00" y1="399.60" x2="337.00" y2="511.80" stroke="#151515" stroke-width="1.6"/>
<line x1="333.10" y1="511.10" x2="337.00" y2="511.10" stroke="#151515" stroke-width="1.3"/>
<text x="330.04" y="513.61" font-size="7.2" font-weight="bold" fill="#222" stroke="#222" stroke-width="0.3" textLength="4.61" lengthAdjust="spacingAndGlyphs">0</text>
<line x1="333.10" y1="489.94" x2="337.00" y2="489.94" stroke="#151515" stroke-width="1.3"/>
<text x="325.44" y="492.45" font-size="7.2" font-weight="bold" fill="#222" stroke="#222" stroke-width="0.3" textLength="9.21" lengthAdjust="spacingAndGlyphs">20</text>
<line x1="333.10" y1="468.78" x2="337.00" y2="468.78" stroke="#151515" stroke-width="1.3"/>
<text x="325.44" y="471.29" font-size="7.2" font-weight="bold" fill="#222" stroke="#222" stroke-width="0.3" textLength="9.21" lengthAdjust="spacingAndGlyphs">40</text>
<line x1="333.10" y1="447.62" x2="337.00" y2="447.62" stroke="#151515" stroke-width="1.3"/>
<text x="325.44" y="450.13" font-size="7.2" font-weight="bold" fill="#222" stroke="#222" stroke-width="0.3" textLength="9.21" lengthAdjust="spacingAndGlyphs">60</text>
<line x1="333.10" y1="426.46" x2="337.00" y2="426.46" stroke="#151515" stroke-width="1.3"/>
<text x="325.44" y="428.97" font-size="7.2" font-weight="bold" fill="#222" stroke="#222" stroke-width="0.3" textLength="9.21" lengthAdjust="spacingAndGlyphs">80</text>
<line x1="333.10" y1="405.30" x2="337.00" y2="405.30" stroke="#151515" stroke-width="1.3"/>
<text x="320.82" y="407.81" font-size="7.2" font-weight="bold" fill="#222" stroke="#222" stroke-width="0.3" textLength="13.82" lengthAdjust="spacingAndGlyphs">100</text>
<line x1="336.20" y1="511.10" x2="505.70" y2="511.10" stroke="#151515" stroke-width="1.5"/>
<rect x="346.80" y="406.00" width="37.00" height="105.10" fill="#8b898b" stroke="#1a1a1a" stroke-width="1"/>
<line x1="355.30" y1="404.50" x2="374.90" y2="404.50" stroke="#111" stroke-width="1.5"/>
<rect x="402.70" y="468.00" width="36.40" height="43.10" fill="#3e3b3c" stroke="#1a1a1a" stroke-width="1"/>
<line x1="421.00" y1="463.90" x2="421.00" y2="467.50" stroke="#111" stroke-width="1.5"/>
<line x1="411.60" y1="463.90" x2="430.80" y2="463.90" stroke="#111" stroke-width="1.5"/>
<text x="419.35" y="463.81" font-size="9.00" font-weight="bold" fill="#222" textLength="3.50" lengthAdjust="spacingAndGlyphs">*</text>
<rect x="458.90" y="498.70" width="37.10" height="12.40" fill="#262223" stroke="#1a1a1a" stroke-width="1"/>
<line x1="477.40" y1="496.20" x2="477.40" y2="498.20" stroke="#111" stroke-width="1.5"/>
<line x1="467.50" y1="496.20" x2="487.00" y2="496.20" stroke="#111" stroke-width="1.5"/>
<text transform="translate(469.93,494.10) scale(1.278,1)" x="0" y="0" font-size="10.22" fill="#1a1a1a" stroke="#1a1a1a" stroke-width="0.39" letter-spacing="1.56">##</text>
<text x="450.13" y="462.50" font-size="9.93" fill="#2a2a2a" stroke="#2a2a2a" stroke-width="0.2" textLength="50.60" lengthAdjust="spacingAndGlyphs">withdrawn</text>
<text x="459.73" y="475.30" font-size="9.79" fill="#2a2a2a" stroke="#2a2a2a" stroke-width="0.2" textLength="33.35" lengthAdjust="spacingAndGlyphs">6 days</text>
<line x1="458.40" y1="479.10" x2="496.10" y2="479.10" stroke="#111" stroke-width="1.6"/>
<text x="274.12" y="530.50" font-size="11.59" fill="#222" stroke="#222" stroke-width="0.2" textLength="64.66" lengthAdjust="spacingAndGlyphs">Trabectedin</text>
<text x="365.04" y="530.70" font-size="10.00" font-weight="bold" fill="#222" textLength="3.33" lengthAdjust="spacingAndGlyphs">-</text>
<text x="417.88" y="530.62" font-size="10.00" font-weight="bold" fill="#222" textLength="5.84" lengthAdjust="spacingAndGlyphs">+</text>
<text x="474.27" y="530.62" font-size="10.00" font-weight="bold" fill="#222" textLength="5.84" lengthAdjust="spacingAndGlyphs">+</text>
</svg>
</body></html>
